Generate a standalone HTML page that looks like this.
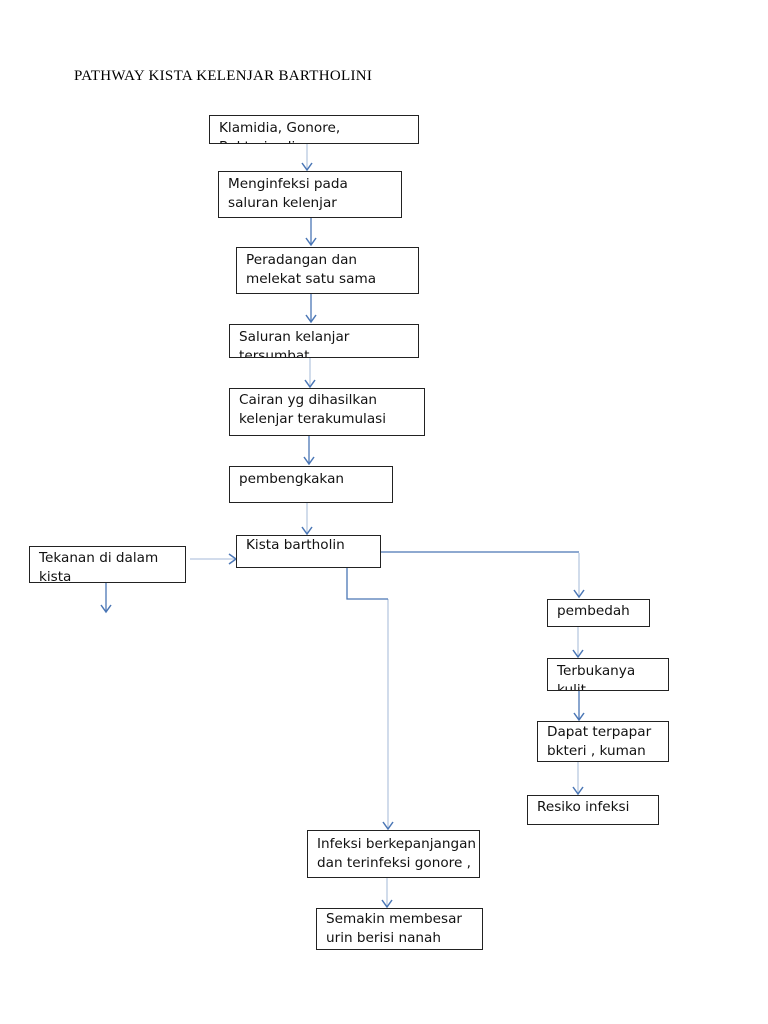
<!DOCTYPE html>
<html><head><meta charset="utf-8"><style>
html,body{margin:0;padding:0;background:#fff;width:768px;height:1024px;overflow:hidden;position:relative}
.t{position:absolute;left:74px;top:68px;font-family:"Liberation Serif",serif;font-size:15px;color:#000;letter-spacing:0.3px}
.b{position:absolute;box-sizing:border-box;border:1px solid #222;background:#fff;overflow:hidden;font-family:"DejaVu Sans","Liberation Sans",sans-serif;font-size:13.6px;line-height:19px;color:#111;padding:0 0 0 9px;white-space:nowrap}
svg{position:absolute;left:0;top:0}
</style></head><body>
<div class="t">PATHWAY KISTA KELENJAR BARTHOLINI</div>
<svg width="768" height="1024" fill="none" stroke="#4a76b5" stroke-width="1.3">
<g stroke="#b8c8e0"><line x1="307" y1="144" x2="307" y2="170"/><line x1="310" y1="358" x2="310" y2="387"/><line x1="307" y1="503" x2="307" y2="534"/><line x1="190" y1="559" x2="235" y2="559"/><line x1="579" y1="553" x2="579" y2="597"/><line x1="578" y1="627" x2="578" y2="657"/><line x1="388" y1="599" x2="388" y2="829"/><line x1="578" y1="762" x2="578" y2="794"/><line x1="387" y1="878" x2="387" y2="907"/></g>
<line x1="311" y1="218" x2="311" y2="245"/><line x1="311" y1="294" x2="311" y2="322"/><line x1="309" y1="436" x2="309" y2="464"/>
<line x1="381" y1="552" x2="579" y2="552"/><polyline points="347,568 347,599 388,599"/>
<line x1="106" y1="583" x2="106" y2="612"/><line x1="579" y1="691" x2="579" y2="720"/>
<g stroke-width="1.5">
<polyline points="302,163 307,170 312,163"/><polyline points="306,238 311,245 316,238"/><polyline points="306,315 311,322 316,315"/>
<polyline points="305,380 310,387 315,380"/><polyline points="304,457 309,464 314,457"/><polyline points="302,527 307,534 312,527"/>
<polyline points="229,554 236,559 229,564"/><polyline points="101,605 106,612 111,605"/><polyline points="574,590 579,597 584,590"/>
<polyline points="573,650 578,657 583,650"/><polyline points="574,713 579,720 584,713"/><polyline points="573,787 578,794 583,787"/>
<polyline points="383,822 388,829 393,822"/><polyline points="382,900 387,907 392,900"/></g>
</svg>
<div class="b" style="left:209px;top:115px;width:210px;height:29px;padding-top:3px">Klamidia, Gonore,<br>Bakteri coli</div>
<div class="b" style="left:218px;top:171px;width:184px;height:47px;padding-top:3px">Menginfeksi pada<br>saluran kelenjar</div>
<div class="b" style="left:236px;top:247px;width:183px;height:47px;padding-top:3px">Peradangan dan<br>melekat satu sama</div>
<div class="b" style="left:229px;top:324px;width:190px;height:34px;padding-top:3px">Saluran kelanjar<br>tersumbat</div>
<div class="b" style="left:229px;top:388px;width:196px;height:48px;padding-top:2px">Cairan yg dihasilkan<br>kelenjar terakumulasi</div>
<div class="b" style="left:229px;top:466px;width:164px;height:37px;padding-top:3px">pembengkakan</div>
<div class="b" style="left:236px;top:535px;width:145px;height:33px;padding-top:0">Kista bartholin</div>
<div class="b" style="left:29px;top:546px;width:157px;height:37px;padding-top:2px">Tekanan di dalam<br>kista</div>
<div class="b" style="left:547px;top:599px;width:103px;height:28px;padding-top:2px">pembedah</div>
<div class="b" style="left:547px;top:658px;width:122px;height:33px;padding-top:3px">Terbukanya<br>kulit</div>
<div class="b" style="left:537px;top:721px;width:132px;height:41px;padding-top:1px">Dapat terpapar<br>bkteri , kuman</div>
<div class="b" style="left:527px;top:795px;width:132px;height:30px;padding-top:2px">Resiko infeksi</div>
<div class="b" style="left:307px;top:830px;width:173px;height:48px;padding-top:4px">Infeksi berkepanjangan<br>dan terinfeksi gonore ,</div>
<div class="b" style="left:316px;top:908px;width:167px;height:42px;padding-top:1px">Semakin membesar<br>urin berisi nanah</div>
</body></html>
